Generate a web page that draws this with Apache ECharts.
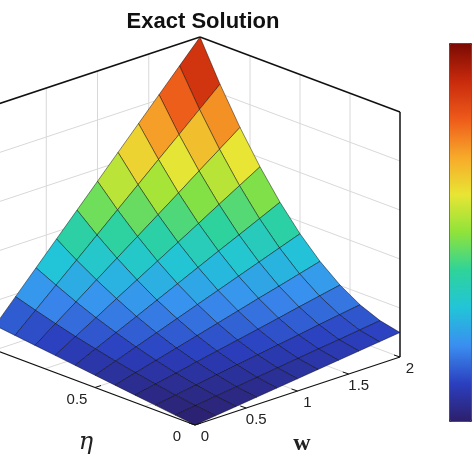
<!DOCTYPE html>
<html><head><meta charset="utf-8">
<script src="https://cdn.jsdelivr.net/npm/echarts@6/dist/echarts.min.js"></script>
<style>html,body{margin:0;padding:0;background:#fff}#c{width:474px;height:474px}</style>
</head><body><div id="c"></div>
<script>
var etaVals=[0,0.1,0.2,0.3,0.4,0.5,0.6,0.7,0.8,0.9,1.0];
var wVals=[0,0.2,0.4,0.6,0.8,1.0,1.2,1.4,1.6,1.8,2.0];
var zVals=[
[0,0.01,0.02,0.03,0.04,0.05,0.06,0.07,0.08,0.09,0.10],
[0.01,0.021,0.032,0.042,0.053,0.064,0.075,0.086,0.096,0.107,0.118],
[0.02,0.033,0.046,0.06,0.073,0.086,0.099,0.112,0.126,0.139,0.152],
[0.03,0.047,0.064,0.082,0.099,0.116,0.133,0.150,0.168,0.185,0.202],
[0.04,0.063,0.086,0.108,0.131,0.154,0.177,0.200,0.222,0.245,0.268],
[0.05,0.08,0.11,0.14,0.17,0.2,0.23,0.26,0.29,0.32,0.35],
[0.06,0.099,0.138,0.176,0.215,0.254,0.293,0.332,0.370,0.409,0.448],
[0.07,0.119,0.168,0.218,0.267,0.316,0.365,0.414,0.464,0.513,0.562],
[0.08,0.141,0.202,0.264,0.325,0.386,0.447,0.508,0.570,0.631,0.692],
[0.09,0.165,0.240,0.314,0.389,0.464,0.539,0.614,0.688,0.763,0.838],
[0.1,0.19,0.28,0.37,0.46,0.55,0.64,0.73,0.82,0.91,1.0]
];
var etaTicks=[0,0.5];
var wTicks=[0,0.5,1,1.5,2];
var zTicks=[0.2,0.4,0.6,0.8];
var wallW=[0.5,1,1.5];
var wallE=[0.25,0.5,0.75];

function P(e,w,z){return [195-200*e+102.5*w, 425-75*e-34*w-245*z];}

var cells=[];
for(var i=0;i<etaVals.length-1;i++)for(var j=0;j<wVals.length-1;j++){
  var a=zVals[i][j],b=zVals[i+1][j],c=zVals[i+1][j+1],d=zVals[i][j+1];
  cells.push([i,j,a,b,c,d,(a+b+c+d)/4]);
}
cells.sort(function(p,q){return (q[0]+q[1])-(p[0]+p[1]);});

var chart=echarts.init(document.getElementById('c'));
function line(api,p1,p2,color,wd){
  var a=api.coord(p1),b=api.coord(p2);
  return {type:'line',shape:{x1:a[0],y1:a[1],x2:b[0],y2:b[1]},style:{stroke:color,lineWidth:wd}};
}
function txt(api,p,s,font,align){
  var a=api.coord(p);
  return {type:'text',x:a[0],y:a[1],style:{text:s,font:font,fill:'#222',align:align||'center',verticalAlign:'middle'}};
}
chart.setOption({
  animation:false,
  title:{text:'Exact Solution',left:198,top:6,textAlign:'center',textStyle:{fontFamily:'Liberation Sans',fontWeight:'bold',fontSize:22,color:'#111'}},
  grid:{left:0,right:0,top:0,bottom:0},
  xAxis:{type:'value',min:0,max:474,show:false},
  yAxis:{type:'value',min:0,max:474,inverse:true,show:false},
  visualMap:{type:'continuous',min:0,max:1,dimension:6,seriesIndex:1,calculable:false,
    left:449,top:43,padding:0,itemWidth:22,itemHeight:378,itemGap:0,text:null,showLabel:false,textStyle:{fontSize:0},
    borderColor:'#333',borderWidth:1,
    inRange:{color:['#2c1f6b','#2b3fbf','#3a8ef0','#22c4d8','#2ed39a','#8fe33a','#e8e534','#f7a92a','#ee5a1a','#c82a0c','#7a0a03']}},
  series:[
  {type:'custom',data:[[0]],silent:true,z:1,renderItem:function(params,api){
    var ch=[];var g='#d8d8d8';
    wallW.forEach(function(w){ch.push(line(api,P(1,w,0),P(1,w,1),g,1));});
    wallE.forEach(function(e){ch.push(line(api,P(e,2,0),P(e,2,1),g,1));});
    zTicks.forEach(function(z){ch.push(line(api,P(1,0,z),P(1,2,z),g,1));ch.push(line(api,P(1,2,z),P(0,2,z),g,1));});
    wallW.forEach(function(w){ch.push(line(api,P(0,w,0),P(1,w,0),g,1));});
    wallE.forEach(function(e){ch.push(line(api,P(e,0,0),P(e,2,0),g,1));});
    ch.push(line(api,P(1,0,0),P(1,2,0),g,1));ch.push(line(api,P(1,2,0),P(0,2,0),g,1));
    ch.push(line(api,P(1,0,1),P(1,2,1),'#111',1.5));
    ch.push(line(api,P(1,2,1),P(0,2,1),'#111',1.5));
    ch.push(line(api,P(0,2,0),P(0,2,1),'#111',1.5));
    return {type:'group',children:ch};
  }},
  {type:'custom',data:cells,silent:true,z:2,renderItem:function(params,api){
    var i=api.value(0),j=api.value(1);
    var e0=etaVals[i],e1=etaVals[i+1],w0=wVals[j],w1=wVals[j+1];
    var pts=[P(e0,w0,api.value(2)),P(e1,w0,api.value(3)),P(e1,w1,api.value(4)),P(e0,w1,api.value(5))].map(function(p){return api.coord(p);});
    return {type:'polygon',shape:{points:pts},style:{fill:api.visual('color'),stroke:'rgba(0,0,0,0.75)',lineWidth:0.6}};
  }},
  {type:'custom',data:[[0]],silent:true,z:3,renderItem:function(params,api){
    var ch=[];
    ch.push(line(api,P(0,0,0),P(1,0,0),'#111',1.2));
    ch.push(line(api,P(0,0,0),P(0,2,0),'#111',1.2));
    var f='15px Liberation Sans';
    etaTicks.forEach(function(e){var p=P(e,0,0);ch.push(line(api,p,[p[0]+6,p[1]-2],'#111',1));ch.push(txt(api,[p[0]-18,p[1]+12],String(e),f));});
    wTicks.forEach(function(w){var p=P(0,w,0);ch.push(line(api,p,[p[0]-6,p[1]-2],'#111',1));ch.push(txt(api,[p[0]+10,p[1]+12],String(w),f));});
    ch.push(txt(api,[86,443],'η','italic 24px DejaVu Serif'));
    ch.push(txt(api,[302,444],'w','bold 24px Liberation Serif'));
    return {type:'group',children:ch};
  }}
  ]
});
</script></body></html>
